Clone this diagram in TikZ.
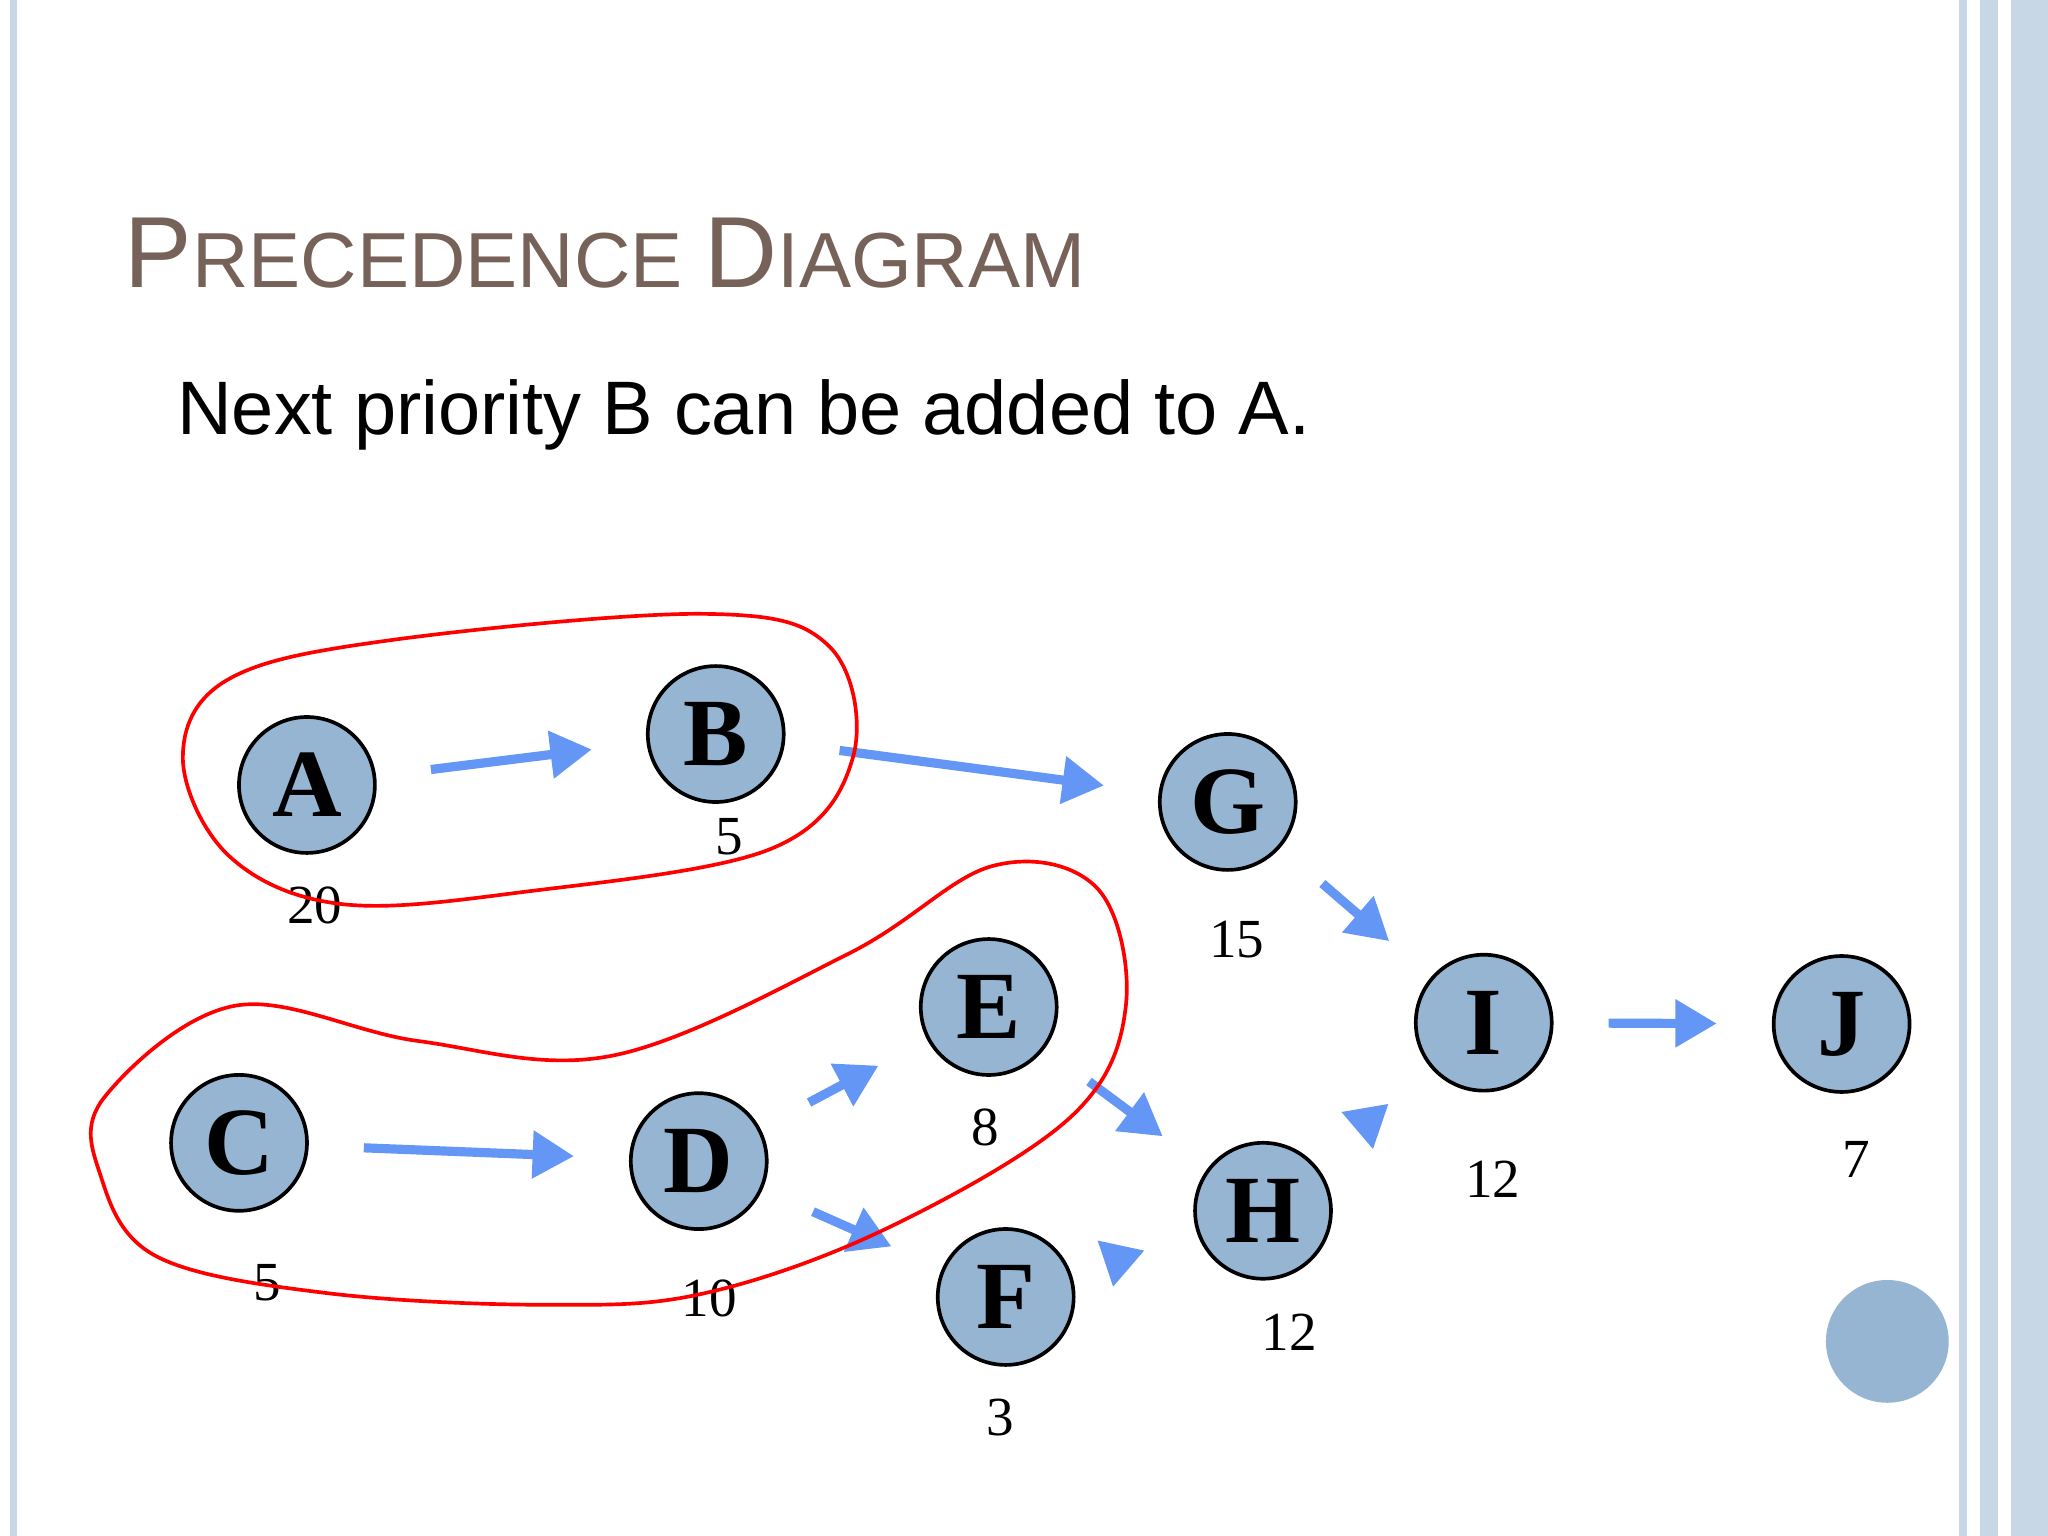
\documentclass[tikz,border=0pt]{standalone}
\usepackage{fontspec}
\setmainfont{Liberation Sans}
\newfontfamily\nodefont{Liberation Serif}
\usetikzlibrary{arrows.meta}
\definecolor{nodefill}{RGB}{149,181,210}
\definecolor{arrowblue}{RGB}{100,150,245}
\definecolor{titlebrown}{RGB}{118,98,88}
\definecolor{borderblue}{RGB}{200,215,230}
\tikzset{
  task/.style={draw, circle, thick, fill=nodefill, minimum size=1.04cm, inner sep=0pt, font=\nodefont\fontsize{21}{21}\selectfont\bfseries},
  dur/.style={font=\nodefont\fontsize{12}{12}\selectfont},
  flow/.style={arrowblue, line width=2pt, -{Triangle[length=9pt,width=10pt]}, shorten <=12pt, shorten >=12pt},
  group/.style={red, thick}
}
\begin{document}
\begin{tikzpicture}[x=0.01cm, y=-0.01cm]
\useasboundingbox (0,0) rectangle (1568,1176);
% slide frame
\fill[borderblue] (8,0) rectangle (13,1176);
\fill[borderblue] (1500,0) rectangle (1506,1176);
\fill[borderblue] (1516,0) rectangle (1530,1176);
\fill[borderblue] (1540,0) rectangle (1568,1176);
\fill[nodefill] (1445,1027) circle (47);
% title
\node[anchor=base west, text=titlebrown, inner sep=0pt] (title) at (95,220)
  {\fontsize{22}{26}\selectfont P\fontsize{17}{20}\selectfont RECEDENCE \fontsize{22}{26}\selectfont D\fontsize{17}{20}\selectfont IAGRAM};
\node[anchor=base west, inner sep=0pt] (note) at (135,333) {\fontsize{16.5}{20}\selectfont Next priority B can be added to A.};
% tasks
\node[task] (A) at (235,601) {A};
\node[task] (B) at (548,562) {B};
\node[task] (G) at (940,614) {G};
\node[task] (C) at (183,875) {C};
\node[task] (D) at (535,889) {D};
\node[task] (E) at (757,771) {E};
\node[task] (F) at (770,993) {F};
\node[task] (H) at (967,927) {H};
\node[task] (I) at (1136,783) {I};
\node[task] (J) at (1410,784) {J};
% durations
\node[dur] at (241,693) {20};
\node[dur] at (558,641) {5};
\node[dur] at (947,719) {15};
\node[dur] at (754,863) {8};
\node[dur] at (205,982) {5};
\node[dur] at (543,994) {10};
\node[dur] at (766,1085) {3};
\node[dur] at (987,1020) {12};
\node[dur] at (1143,903) {12};
\node[dur] at (1421,888) {7};
% precedence
\draw[flow] (A) -- (B);
\draw[flow] (B) -- (G);
\draw[flow] (G) -- (I);
\draw[flow] (C) -- (D);
\draw[flow] (D) -- (E);
\draw[flow] (D) -- (F);
\draw[flow] (E) -- (H);
\draw[flow] (F) -- (H);
\draw[flow] (H) -- (I);
\draw[flow] (I) -- (J);
% groups
\draw[group] plot[smooth cycle, tension=0.6] coordinates {(140,580) (175,520) (300,490) (540,470) (635,495) (653,580) (590,650) (400,683) (260,692) (175,655)};
\draw[group] plot[smooth cycle, tension=0.6] coordinates {(80,840) (180,770) (320,797) (470,808) (650,730) (760,663) (840,680) (862,770) (820,855) (680,940) (540,990) (420,999) (250,990) (120,962) (77,900)};
\end{tikzpicture}
\end{document}
